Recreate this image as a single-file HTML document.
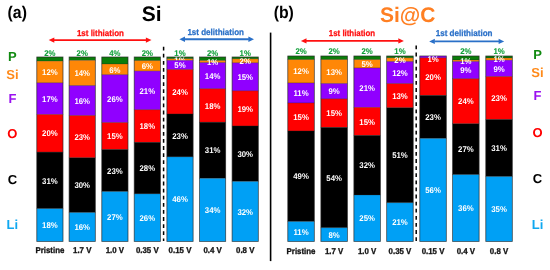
<!DOCTYPE html>
<html><head><meta charset="utf-8"><style>
html,body{margin:0;padding:0;background:#fff;}
body{width:550px;height:270px;overflow:hidden;}
svg{display:block;will-change:transform;text-rendering:geometricPrecision;font-family:"Liberation Sans",sans-serif;font-weight:bold;}
.ttl{font-size:17px;fill:#000;}
.big{font-size:21px;}
.at{font-size:8.7px;text-anchor:middle;stroke-width:0.25px;}
.el{font-size:13px;text-anchor:middle;}
.pl{font-size:8.3px;text-anchor:middle;stroke:#11a03a;stroke-width:0.1px;}
.wl{font-size:8.3px;text-anchor:middle;fill:#fff;}
.xl{font-size:8.4px;text-anchor:middle;fill:#111;stroke:#111;stroke-width:0.3px;}
.ol{stroke:rgba(40,40,40,0.6);stroke-width:0.8px;}
.sg{stroke:rgba(40,40,40,0.4);stroke-width:0.6px;}
</style></head><body>
<svg width="550" height="270" viewBox="0 0 550 270">
<rect width="550" height="270" fill="#fff"/>
<text transform="translate(7.6,17.6) scale(0.93,1)" class="ttl">(a)</text>
<text x="151.7" y="20.9" class="big" text-anchor="middle">Si</text>
<text transform="translate(273.7,17.5) scale(0.93,1)" class="ttl">(b)</text>
<text x="407.7" y="21.9" class="big" text-anchor="middle" fill="#ff7f22">Si@C</text>
<text x="100.4" y="36.3" class="at" fill="#ff1010" stroke="#ff1010" textLength="47" lengthAdjust="spacingAndGlyphs">1st lithiation</text>
<line x1="53.80" y1="40.1" x2="146.40" y2="40.1" stroke="#ff1010" stroke-width="1.9"/><path d="M48.70,40.1 L54.30,37.40 L54.30,42.80 Z" fill="#ff1010"/><path d="M151.50,40.1 L145.90,37.40 L145.90,42.80 Z" fill="#ff1010"/>
<text x="215.7" y="35.1" class="at" fill="#2a70c8" stroke="#2a70c8" textLength="56.6" lengthAdjust="spacingAndGlyphs">1st delithiation</text>
<line x1="184.50" y1="39.2" x2="248.90" y2="39.2" stroke="#2a70c8" stroke-width="1.9"/><path d="M179.40,39.2 L185.00,36.50 L185.00,41.90 Z" fill="#2a70c8"/><path d="M254.00,39.2 L248.40,36.50 L248.40,41.90 Z" fill="#2a70c8"/>
<text x="352" y="36.4" class="at" fill="#ff1010" stroke="#ff1010" textLength="46.3" lengthAdjust="spacingAndGlyphs">1st lithiation</text>
<line x1="306.00" y1="40.9" x2="398.80" y2="40.9" stroke="#ff1010" stroke-width="1.9"/><path d="M300.90,40.9 L306.50,38.20 L306.50,43.60 Z" fill="#ff1010"/><path d="M403.90,40.9 L398.30,38.20 L398.30,43.60 Z" fill="#ff1010"/>
<text x="464.1" y="36.4" class="at" fill="#2a70c8" stroke="#2a70c8" textLength="56.8" lengthAdjust="spacingAndGlyphs">1st delithiation</text>
<line x1="434.30" y1="41.4" x2="499.10" y2="41.4" stroke="#2a70c8" stroke-width="1.9"/><path d="M429.20,41.4 L434.80,38.70 L434.80,44.10 Z" fill="#2a70c8"/><path d="M504.20,41.4 L498.60,38.70 L498.60,44.10 Z" fill="#2a70c8"/>
<text x="12.4" y="60.9" class="el" fill="#108a10">P</text>
<text x="12.4" y="78.9" class="el" fill="#ff8a1a">Si</text>
<text x="12.4" y="102.8" class="el" fill="#9a10f0">F</text>
<text x="12.4" y="137.9" class="el" fill="#ff0000">O</text>
<text x="12.4" y="183.5" class="el" fill="#000000">C</text>
<text x="12.4" y="228.9" class="el" fill="#10a8f0">Li</text>
<text x="537.5" y="58.9" class="el" fill="#108a10">P</text>
<text x="537.5" y="77.0" class="el" fill="#ff8a1a">Si</text>
<text x="537.5" y="100.4" class="el" fill="#9a10f0">F</text>
<text x="537.5" y="136.7" class="el" fill="#ff0000">O</text>
<text x="537.5" y="182.7" class="el" fill="#000000">C</text>
<text x="537.5" y="228.9" class="el" fill="#10a8f0">Li</text>
<line x1="270.6" y1="32.6" x2="270.6" y2="261.1" stroke="#000" stroke-width="1.6"/>
<line x1="163.6" y1="46.7" x2="163.6" y2="241" stroke="#000" stroke-width="1.5" stroke-dasharray="3.8 3.3"/>
<line x1="416.2" y1="45.5" x2="416.2" y2="241" stroke="#000" stroke-width="1.5" stroke-dasharray="3.8 3.3"/>
<rect x="36.80" y="57.00" width="26.20" height="4.10" fill="#0a7d0a" class="sg"/>
<rect x="36.80" y="61.10" width="26.20" height="21.80" fill="#ff8707" class="sg"/>
<rect x="36.80" y="82.90" width="26.20" height="31.60" fill="#9000ff" class="sg"/>
<rect x="36.80" y="114.50" width="26.20" height="37.60" fill="#ff0000" class="sg"/>
<rect x="36.80" y="152.10" width="26.20" height="56.60" fill="#000000" class="sg"/>
<rect x="36.80" y="208.70" width="26.20" height="32.80" fill="#00a0f5" class="sg"/>
<rect x="36.80" y="57.00" width="26.20" height="184.50" fill="none" class="ol"/>
<rect x="69.10" y="57.00" width="26.20" height="3.40" fill="#0a7d0a" class="sg"/>
<rect x="69.10" y="60.40" width="26.20" height="25.30" fill="#ff8707" class="sg"/>
<rect x="69.10" y="85.70" width="26.20" height="29.90" fill="#9000ff" class="sg"/>
<rect x="69.10" y="115.60" width="26.20" height="42.20" fill="#ff0000" class="sg"/>
<rect x="69.10" y="157.80" width="26.20" height="54.80" fill="#000000" class="sg"/>
<rect x="69.10" y="212.60" width="26.20" height="28.90" fill="#00a0f5" class="sg"/>
<rect x="69.10" y="57.00" width="26.20" height="184.50" fill="none" class="ol"/>
<rect x="101.80" y="57.00" width="26.20" height="7.00" fill="#0a7d0a" class="sg"/>
<rect x="101.80" y="64.00" width="26.20" height="10.80" fill="#ff8707" class="sg"/>
<rect x="101.80" y="74.80" width="26.20" height="47.80" fill="#9000ff" class="sg"/>
<rect x="101.80" y="122.60" width="26.20" height="26.90" fill="#ff0000" class="sg"/>
<rect x="101.80" y="149.50" width="26.20" height="42.10" fill="#000000" class="sg"/>
<rect x="101.80" y="191.60" width="26.20" height="49.90" fill="#00a0f5" class="sg"/>
<rect x="101.80" y="57.00" width="26.20" height="184.50" fill="none" class="ol"/>
<rect x="134.20" y="57.00" width="26.20" height="3.70" fill="#0a7d0a" class="sg"/>
<rect x="134.20" y="60.70" width="26.20" height="10.40" fill="#ff8707" class="sg"/>
<rect x="134.20" y="71.10" width="26.20" height="38.70" fill="#9000ff" class="sg"/>
<rect x="134.20" y="109.80" width="26.20" height="32.50" fill="#ff0000" class="sg"/>
<rect x="134.20" y="142.30" width="26.20" height="51.60" fill="#000000" class="sg"/>
<rect x="134.20" y="193.90" width="26.20" height="47.60" fill="#00a0f5" class="sg"/>
<rect x="134.20" y="57.00" width="26.20" height="184.50" fill="none" class="ol"/>
<rect x="166.90" y="57.00" width="26.20" height="1.80" fill="#0a7d0a" class="sg"/>
<rect x="166.90" y="58.80" width="26.20" height="1.60" fill="#ff8707" class="sg"/>
<text transform="translate(180.00,62.70) scale(0.94,1)" class="wl">1%</text>
<rect x="166.90" y="60.40" width="26.20" height="9.20" fill="#9000ff" class="sg"/>
<rect x="166.90" y="69.60" width="26.20" height="44.40" fill="#ff0000" class="sg"/>
<rect x="166.90" y="114.00" width="26.20" height="42.90" fill="#000000" class="sg"/>
<rect x="166.90" y="156.90" width="26.20" height="84.60" fill="#00a0f5" class="sg"/>
<rect x="166.90" y="57.00" width="26.20" height="184.50" fill="none" class="ol"/>
<rect x="199.50" y="57.00" width="26.20" height="3.60" fill="#0a7d0a" class="sg"/>
<rect x="199.50" y="60.60" width="26.20" height="2.10" fill="#ff8707" class="sg"/>
<rect x="199.50" y="62.70" width="26.20" height="26.10" fill="#9000ff" class="sg"/>
<rect x="199.50" y="88.80" width="26.20" height="33.40" fill="#ff0000" class="sg"/>
<rect x="199.50" y="122.20" width="26.20" height="56.20" fill="#000000" class="sg"/>
<rect x="199.50" y="178.40" width="26.20" height="63.10" fill="#00a0f5" class="sg"/>
<rect x="199.50" y="57.00" width="26.20" height="184.50" fill="none" class="ol"/>
<rect x="232.10" y="57.00" width="26.20" height="1.90" fill="#0a7d0a" class="sg"/>
<rect x="232.10" y="58.90" width="26.20" height="4.00" fill="#ff8707" class="sg"/>
<rect x="232.10" y="62.90" width="26.20" height="28.00" fill="#9000ff" class="sg"/>
<rect x="232.10" y="90.90" width="26.20" height="35.10" fill="#ff0000" class="sg"/>
<rect x="232.10" y="126.00" width="26.20" height="55.50" fill="#000000" class="sg"/>
<rect x="232.10" y="181.50" width="26.20" height="60.00" fill="#00a0f5" class="sg"/>
<rect x="232.10" y="57.00" width="26.20" height="184.50" fill="none" class="ol"/>
<text transform="translate(49.90,75.10) scale(0.94,1)" class="wl">12%</text>
<text transform="translate(49.90,101.80) scale(0.94,1)" class="wl">17%</text>
<text transform="translate(49.90,136.40) scale(0.94,1)" class="wl">20%</text>
<text transform="translate(49.90,183.50) scale(0.94,1)" class="wl">31%</text>
<text transform="translate(49.90,228.20) scale(0.94,1)" class="wl">18%</text>
<text transform="translate(82.20,76.15) scale(0.94,1)" class="wl">14%</text>
<text transform="translate(82.20,103.75) scale(0.94,1)" class="wl">16%</text>
<text transform="translate(82.20,139.80) scale(0.94,1)" class="wl">23%</text>
<text transform="translate(82.20,188.30) scale(0.94,1)" class="wl">30%</text>
<text transform="translate(82.20,230.15) scale(0.94,1)" class="wl">16%</text>
<text transform="translate(114.90,72.50) scale(0.94,1)" class="wl">6%</text>
<text transform="translate(114.90,101.80) scale(0.94,1)" class="wl">26%</text>
<text transform="translate(114.90,139.15) scale(0.94,1)" class="wl">15%</text>
<text transform="translate(114.90,173.65) scale(0.94,1)" class="wl">23%</text>
<text transform="translate(114.90,219.65) scale(0.94,1)" class="wl">27%</text>
<text transform="translate(147.30,69.00) scale(0.94,1)" class="wl">6%</text>
<text transform="translate(147.30,93.55) scale(0.94,1)" class="wl">21%</text>
<text transform="translate(147.30,129.15) scale(0.94,1)" class="wl">18%</text>
<text transform="translate(147.30,171.20) scale(0.94,1)" class="wl">28%</text>
<text transform="translate(147.30,220.80) scale(0.94,1)" class="wl">26%</text>
<text transform="translate(180.00,68.10) scale(0.94,1)" class="wl">5%</text>
<text transform="translate(180.00,94.90) scale(0.94,1)" class="wl">24%</text>
<text transform="translate(180.00,138.55) scale(0.94,1)" class="wl">23%</text>
<text transform="translate(180.00,202.30) scale(0.94,1)" class="wl">46%</text>
<text transform="translate(212.60,64.75) scale(0.94,1)" class="wl">1%</text>
<text transform="translate(212.60,78.85) scale(0.94,1)" class="wl">14%</text>
<text transform="translate(212.60,108.60) scale(0.94,1)" class="wl">18%</text>
<text transform="translate(212.60,153.40) scale(0.94,1)" class="wl">31%</text>
<text transform="translate(212.60,213.05) scale(0.94,1)" class="wl">34%</text>
<text transform="translate(245.20,64.00) scale(0.94,1)" class="wl">2%</text>
<text transform="translate(245.20,80.00) scale(0.94,1)" class="wl">15%</text>
<text transform="translate(245.20,111.55) scale(0.94,1)" class="wl">19%</text>
<text transform="translate(245.20,156.85) scale(0.94,1)" class="wl">30%</text>
<text transform="translate(245.20,214.60) scale(0.94,1)" class="wl">32%</text>
<text transform="translate(49.90,55.60) scale(0.94,1)" class="pl" fill="#11a03a">2%</text>
<text transform="translate(49.90,253.00) scale(0.94,1)" class="xl">Pristine</text>
<text transform="translate(82.20,55.60) scale(0.94,1)" class="pl" fill="#11a03a">2%</text>
<text transform="translate(82.20,253.00) scale(0.94,1)" class="xl">1.7 V</text>
<text transform="translate(114.90,55.60) scale(0.94,1)" class="pl" fill="#11a03a">4%</text>
<text transform="translate(114.90,253.00) scale(0.94,1)" class="xl">1.0 V</text>
<text transform="translate(147.30,55.60) scale(0.94,1)" class="pl" fill="#11a03a">2%</text>
<text transform="translate(147.30,253.00) scale(0.94,1)" class="xl">0.35 V</text>
<text transform="translate(180.00,55.60) scale(0.94,1)" class="pl" fill="#11a03a">1%</text>
<text transform="translate(180.00,253.00) scale(0.94,1)" class="xl">0.15 V</text>
<text transform="translate(212.60,55.60) scale(0.94,1)" class="pl" fill="#11a03a">2%</text>
<text transform="translate(212.60,253.00) scale(0.94,1)" class="xl">0.4 V</text>
<text transform="translate(245.20,55.60) scale(0.94,1)" class="pl" fill="#11a03a">1%</text>
<text transform="translate(245.20,253.00) scale(0.94,1)" class="xl">0.8 V</text>
<rect x="287.80" y="56.00" width="26.50" height="3.70" fill="#0a7d0a" class="sg"/>
<rect x="287.80" y="59.70" width="26.50" height="23.30" fill="#ff8707" class="sg"/>
<rect x="287.80" y="83.00" width="26.50" height="20.00" fill="#9000ff" class="sg"/>
<rect x="287.80" y="103.00" width="26.50" height="28.00" fill="#ff0000" class="sg"/>
<rect x="287.80" y="131.00" width="26.50" height="90.60" fill="#000000" class="sg"/>
<rect x="287.80" y="221.60" width="26.50" height="19.90" fill="#00a0f5" class="sg"/>
<rect x="287.80" y="56.00" width="26.50" height="185.50" fill="none" class="ol"/>
<rect x="320.90" y="56.00" width="26.50" height="3.70" fill="#0a7d0a" class="sg"/>
<rect x="320.90" y="59.70" width="26.50" height="23.90" fill="#ff8707" class="sg"/>
<rect x="320.90" y="83.60" width="26.50" height="15.30" fill="#9000ff" class="sg"/>
<rect x="320.90" y="98.90" width="26.50" height="28.50" fill="#ff0000" class="sg"/>
<rect x="320.90" y="127.40" width="26.50" height="100.40" fill="#000000" class="sg"/>
<rect x="320.90" y="227.80" width="26.50" height="13.70" fill="#00a0f5" class="sg"/>
<rect x="320.90" y="56.00" width="26.50" height="185.50" fill="none" class="ol"/>
<rect x="353.90" y="56.00" width="26.50" height="3.70" fill="#0a7d0a" class="sg"/>
<rect x="353.90" y="59.70" width="26.50" height="8.30" fill="#ff8707" class="sg"/>
<rect x="353.90" y="68.00" width="26.50" height="39.40" fill="#9000ff" class="sg"/>
<rect x="353.90" y="107.40" width="26.50" height="28.00" fill="#ff0000" class="sg"/>
<rect x="353.90" y="135.40" width="26.50" height="59.60" fill="#000000" class="sg"/>
<rect x="353.90" y="195.00" width="26.50" height="46.50" fill="#00a0f5" class="sg"/>
<rect x="353.90" y="56.00" width="26.50" height="185.50" fill="none" class="ol"/>
<rect x="386.70" y="56.00" width="26.50" height="1.90" fill="#0a7d0a" class="sg"/>
<rect x="386.70" y="57.90" width="26.50" height="3.70" fill="#ff8707" class="sg"/>
<rect x="386.70" y="61.60" width="26.50" height="22.10" fill="#9000ff" class="sg"/>
<rect x="386.70" y="83.70" width="26.50" height="24.10" fill="#ff0000" class="sg"/>
<rect x="386.70" y="107.80" width="26.50" height="95.00" fill="#000000" class="sg"/>
<rect x="386.70" y="202.80" width="26.50" height="38.70" fill="#00a0f5" class="sg"/>
<rect x="386.70" y="56.00" width="26.50" height="185.50" fill="none" class="ol"/>
<rect x="419.80" y="56.00" width="26.50" height="1.90" fill="#9000ff" class="sg"/>
<rect x="419.80" y="57.90" width="26.50" height="37.50" fill="#ff0000" class="sg"/>
<rect x="419.80" y="95.40" width="26.50" height="43.10" fill="#000000" class="sg"/>
<rect x="419.80" y="138.50" width="26.50" height="103.00" fill="#00a0f5" class="sg"/>
<rect x="419.80" y="56.00" width="26.50" height="185.50" fill="none" class="ol"/>
<rect x="452.60" y="56.00" width="26.50" height="4.00" fill="#0a7d0a" class="sg"/>
<rect x="452.60" y="60.00" width="26.50" height="1.60" fill="#ff8707" class="sg"/>
<rect x="452.60" y="61.60" width="26.50" height="17.20" fill="#9000ff" class="sg"/>
<rect x="452.60" y="78.80" width="26.50" height="45.00" fill="#ff0000" class="sg"/>
<rect x="452.60" y="123.80" width="26.50" height="50.90" fill="#000000" class="sg"/>
<rect x="452.60" y="174.70" width="26.50" height="66.80" fill="#00a0f5" class="sg"/>
<rect x="452.60" y="56.00" width="26.50" height="185.50" fill="none" class="ol"/>
<rect x="485.80" y="56.00" width="26.50" height="2.00" fill="#0a7d0a" class="sg"/>
<rect x="485.80" y="58.00" width="26.50" height="2.20" fill="#ff8707" class="sg"/>
<rect x="485.80" y="60.20" width="26.50" height="16.40" fill="#9000ff" class="sg"/>
<rect x="485.80" y="76.60" width="26.50" height="42.90" fill="#ff0000" class="sg"/>
<rect x="485.80" y="119.50" width="26.50" height="57.10" fill="#000000" class="sg"/>
<rect x="485.80" y="176.60" width="26.50" height="64.90" fill="#00a0f5" class="sg"/>
<rect x="485.80" y="56.00" width="26.50" height="185.50" fill="none" class="ol"/>
<text transform="translate(301.05,74.45) scale(0.94,1)" class="wl">12%</text>
<text transform="translate(301.05,96.10) scale(0.94,1)" class="wl">11%</text>
<text transform="translate(301.05,120.10) scale(0.94,1)" class="wl">15%</text>
<text transform="translate(301.05,179.40) scale(0.94,1)" class="wl">49%</text>
<text transform="translate(301.05,234.65) scale(0.94,1)" class="wl">11%</text>
<text transform="translate(334.15,74.75) scale(0.94,1)" class="wl">13%</text>
<text transform="translate(334.15,94.35) scale(0.94,1)" class="wl">9%</text>
<text transform="translate(334.15,116.25) scale(0.94,1)" class="wl">15%</text>
<text transform="translate(334.15,180.70) scale(0.94,1)" class="wl">54%</text>
<text transform="translate(334.15,237.75) scale(0.94,1)" class="wl">8%</text>
<text transform="translate(367.15,66.95) scale(0.94,1)" class="wl">5%</text>
<text transform="translate(367.15,90.80) scale(0.94,1)" class="wl">21%</text>
<text transform="translate(367.15,124.50) scale(0.94,1)" class="wl">15%</text>
<text transform="translate(367.15,168.30) scale(0.94,1)" class="wl">32%</text>
<text transform="translate(367.15,221.35) scale(0.94,1)" class="wl">25%</text>
<text transform="translate(399.95,62.85) scale(0.94,1)" class="wl">2%</text>
<text transform="translate(399.95,75.75) scale(0.94,1)" class="wl">12%</text>
<text transform="translate(399.95,98.85) scale(0.94,1)" class="wl">13%</text>
<text transform="translate(399.95,158.40) scale(0.94,1)" class="wl">51%</text>
<text transform="translate(399.95,225.25) scale(0.94,1)" class="wl">21%</text>
<text transform="translate(433.05,62.05) scale(0.94,1)" class="wl">1%</text>
<text transform="translate(433.05,79.75) scale(0.94,1)" class="wl">20%</text>
<text transform="translate(433.05,120.05) scale(0.94,1)" class="wl">23%</text>
<text transform="translate(433.05,193.10) scale(0.94,1)" class="wl">56%</text>
<text transform="translate(465.85,63.90) scale(0.94,1)" class="wl">1%</text>
<text transform="translate(465.85,73.30) scale(0.94,1)" class="wl">9%</text>
<text transform="translate(465.85,104.40) scale(0.94,1)" class="wl">24%</text>
<text transform="translate(465.85,152.35) scale(0.94,1)" class="wl">27%</text>
<text transform="translate(465.85,211.20) scale(0.94,1)" class="wl">36%</text>
<text transform="translate(499.05,62.20) scale(0.94,1)" class="wl">1%</text>
<text transform="translate(499.05,71.50) scale(0.94,1)" class="wl">9%</text>
<text transform="translate(499.05,101.15) scale(0.94,1)" class="wl">23%</text>
<text transform="translate(499.05,151.15) scale(0.94,1)" class="wl">31%</text>
<text transform="translate(499.05,212.15) scale(0.94,1)" class="wl">35%</text>
<text transform="translate(301.05,54.20) scale(0.94,1)" class="pl" fill="#11a03a">2%</text>
<text transform="translate(301.05,253.60) scale(0.94,1)" class="xl">Pristine</text>
<text transform="translate(334.15,54.20) scale(0.94,1)" class="pl" fill="#11a03a">2%</text>
<text transform="translate(334.15,253.60) scale(0.94,1)" class="xl">1.7 V</text>
<text transform="translate(367.15,54.20) scale(0.94,1)" class="pl" fill="#11a03a">2%</text>
<text transform="translate(367.15,253.60) scale(0.94,1)" class="xl">1.0 V</text>
<text transform="translate(399.95,54.20) scale(0.94,1)" class="pl" fill="#11a03a">1%</text>
<text transform="translate(399.95,253.60) scale(0.94,1)" class="xl">0.35 V</text>
<text transform="translate(433.05,253.60) scale(0.94,1)" class="xl">0.15 V</text>
<text transform="translate(465.85,54.20) scale(0.94,1)" class="pl" fill="#11a03a">2%</text>
<text transform="translate(465.85,253.60) scale(0.94,1)" class="xl">0.4 V</text>
<text transform="translate(499.05,54.20) scale(0.94,1)" class="pl" fill="#11a03a">1%</text>
<text transform="translate(499.05,253.60) scale(0.94,1)" class="xl">0.8 V</text>
</svg>
</body></html>
